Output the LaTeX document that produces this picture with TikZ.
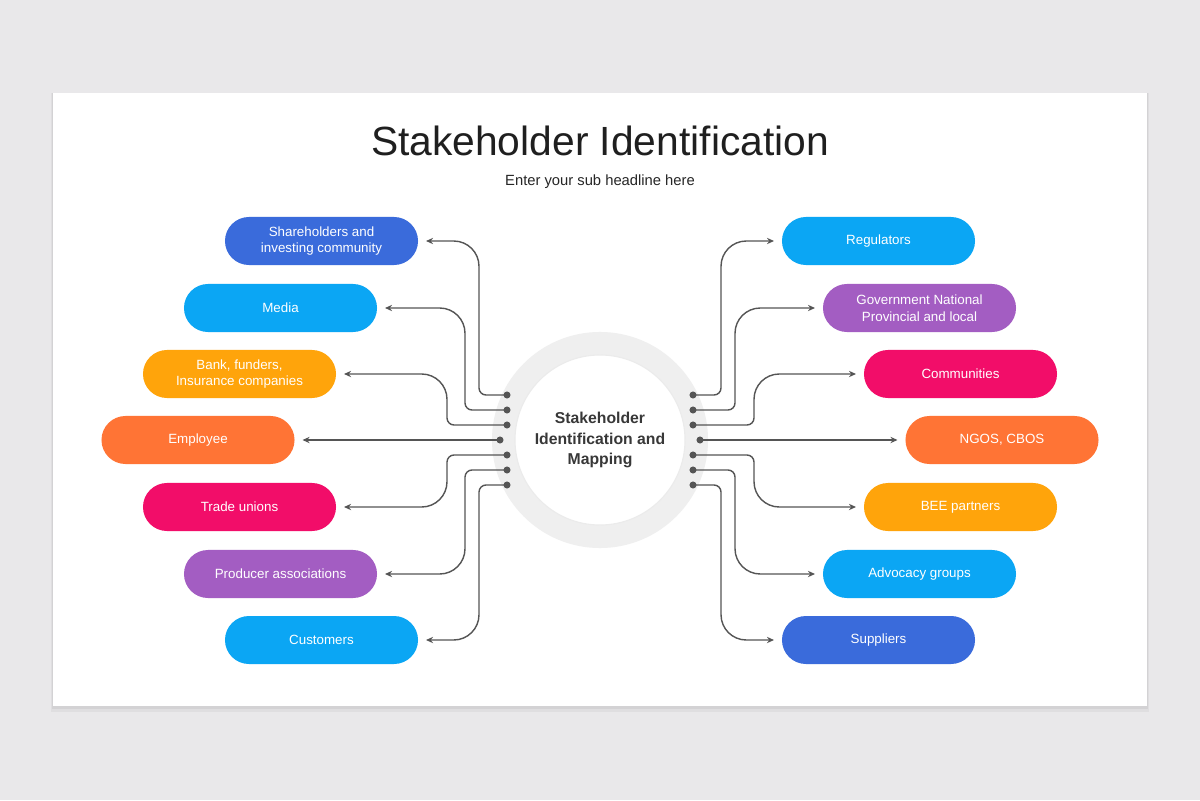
\documentclass[tikz,border=0pt]{standalone}
\usepackage{fontspec}
\setmainfont{Liberation Sans}
\usetikzlibrary{arrows.meta,positioning}
\definecolor{pageBg}{HTML}{E9E8EA}
\definecolor{ringGray}{HTML}{EFEFEF}
\definecolor{lineGray}{HTML}{555555}
\definecolor{cBlue}{HTML}{3A6BDB}
\definecolor{cSky}{HTML}{0BA6F4}
\definecolor{cAmber}{HTML}{FFA40B}
\definecolor{cOrange}{HTML}{FF7435}
\definecolor{cPink}{HTML}{F20D69}
\definecolor{cPurple}{HTML}{A35DC2}
\tikzset{
pill/.style={rounded corners=0.6cm, minimum width=4.825cm, minimum height=1.2cm, text=white, align=center, font=\fontsize{9.5}{12}\selectfont, inner sep=0pt},
link/.style={draw=lineGray, line width=1pt, -{Stealth[length=5pt,width=4.5pt]}, shorten >=5.5pt},
hubdot/.style={circle, fill=lineGray, inner sep=0pt, minimum size=5pt}
}
\begin{document}
\begin{tikzpicture}[x=0.025cm,y=-0.025cm]
\useasboundingbox (0,0) rectangle (1200,800);
\fill[pageBg] (0,0) rectangle (1200,800);
\fill[black,opacity=0.04] (51,93) rectangle (1149,712);
\fill[black,opacity=0.05] (52,93) rectangle (1148,709);
\fill[white] (53,93) rectangle (1147,706);

\node (title) at (600,141) {\fontsize{29}{34}\selectfont\color{black!88} Stakeholder Identification};
\node (sub) at (600,182) {\fontsize{10.5}{12}\selectfont\color{black!85} Enter your sub headline here};

\fill[ringGray] (600,440) circle (2.7cm);
\fill[white,draw=black!8,line width=0.8pt] (600,440) circle (2.125cm);
\node (hub) at (600,440) [align=center, text=black!78, font=\bfseries\fontsize{11.2}{14.6}\selectfont] {Stakeholder\\Identification and\\Mapping};

\node (L1) at (321.5,241) [pill, fill=cBlue] {Shareholders and\\investing community};
\node (L2) at (280.5,308) [pill, fill=cSky] {Media};
\node (L3) at (239.5,374) [pill, fill=cAmber] {Bank, funders,\\Insurance companies};
\node (L4) at (198,440) [pill, fill=cOrange] {Employee};
\node (L5) at (239.5,507) [pill, fill=cPink] {Trade unions};
\node (L6) at (280.5,574) [pill, fill=cPurple] {Producer associations};
\node (L7) at (321.5,640) [pill, fill=cSky] {Customers};

\node (R1) at (878.5,241) [pill, fill=cSky] {Regulators};
\node (R2) at (919.5,308) [pill, fill=cPurple] {Government National\\Provincial and local};
\node (R3) at (960.5,374) [pill, fill=cPink] {Communities};
\node (R4) at (1002,440) [pill, fill=cOrange] {NGOS, CBOS};
\node (R5) at (960.5,507) [pill, fill=cAmber] {BEE partners};
\node (R6) at (919.5,574) [pill, fill=cSky] {Advocacy groups};
\node (R7) at (878.5,640) [pill, fill=cBlue] {Suppliers};

\coordinate (vl1) at (479,0);
\coordinate (vl2) at (465,0);
\coordinate (vl3) at (447,0);
\coordinate (vl5) at (447,0);
\coordinate (vl6) at (465,0);
\coordinate (vl7) at (479,0);
\coordinate (vr1) at (721,0);
\coordinate (vr2) at (735,0);
\coordinate (vr3) at (754,0);
\coordinate (vr5) at (754,0);
\coordinate (vr6) at (735,0);
\coordinate (vr7) at (721,0);

\foreach \i/\y in {1/395,2/410,3/425,5/455,6/470,7/485} {
\node (dl\i) at (507,\y) [hubdot] {};
\node (dr\i) at (693,\y) [hubdot] {};
}
\node (dl4) at (500,440) [hubdot] {};
\node (dr4) at (700,440) [hubdot] {};

\foreach \i in {1,2,3,5,6,7} {
\draw[link] (dl\i.center) [rounded corners=5] -- (dl\i -| vl\i) [rounded corners=18] -- (vl\i |- L\i.east) -- (L\i.east);
\draw[link] (dr\i.center) [rounded corners=5] -- (dr\i -| vr\i) [rounded corners=18] -- (vr\i |- R\i.west) -- (R\i.west);
}
\draw[link] (dl4.center) -- (L4.east);
\draw[link] (dr4.center) -- (R4.west);
\end{tikzpicture}
\end{document}
